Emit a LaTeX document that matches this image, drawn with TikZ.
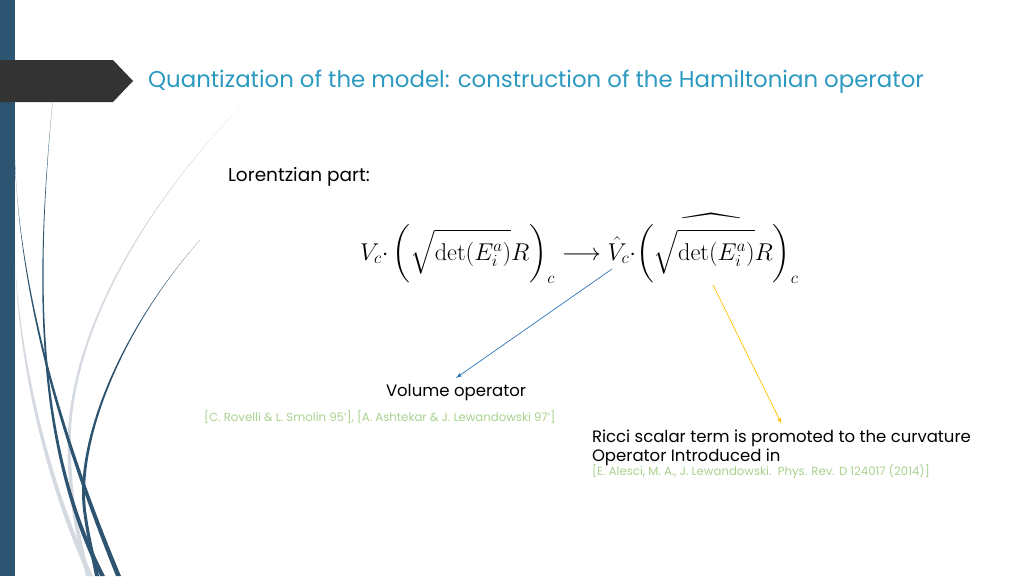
\documentclass[tikz,border=0pt]{standalone}
\usepackage{amsmath}
\usepackage[no-math]{fontspec}
\setmainfont{Poppins}
\definecolor{stripblue}{HTML}{2D5470}
\definecolor{bargray}{HTML}{333333}
\definecolor{titleblue}{HTML}{2C9AC0}
\definecolor{curvegray}{HTML}{D5DAE1}
\definecolor{refgreen}{HTML}{A9D18E}
\definecolor{volblue}{HTML}{2E75B6}
\definecolor{ricciyellow}{HTML}{FFC000}
\newcommand{\bighat}[1]{\mathord{\overset{\makebox[0pt]{\hspace{13pt}\raisebox{-10pt}[0pt][0pt]{\scalebox{1.65}[1.2]{$\widehat{\hphantom{mm}}$}}}}{#1}}}
\begin{document}
\begin{tikzpicture}[x=0.03cm,y=-0.03cm,
    titletext/.style={anchor=base west,text=titleblue,inner sep=0pt,font=\fontsize{19.5}{22}\selectfont},
    bodytext/.style={anchor=base west,inner sep=0pt,outer xsep=0pt,outer ysep=5pt,font=\fontsize{14.1}{16}\selectfont},
    reftext/.style={anchor=base west,text=refgreen,inner sep=0pt,font=\fontsize{10}{12}\selectfont},
    formula/.style={anchor=base west,inner sep=0pt,font=\fontsize{19.5}{22}\selectfont}]
    \useasboundingbox (0,0) rectangle (1024,576);
    % swooshes on the left
    \fill[curvegray] (240,107) .. controls (150,200) and (75,320) .. (68,430) .. controls (65,500) and (80,550) .. (86,576)
        -- (90,576) .. controls (84,550) and (69,500) .. (71,430) .. controls (77,320) and (151,200) .. (240,107) -- cycle;
    \fill[curvegray] (15,258) .. controls (18,360) and (43,476) .. (88,576) -- (93,576) .. controls (47,476) and (21,360) .. (15,262) -- cycle;
    \fill[stripblue] (53,97) .. controls (38,250) and (28,432) .. (100,576) -- (105,576) .. controls (30,432) and (39,250) .. (53,97) -- cycle;
    \fill[stripblue] (15,160) .. controls (20,300) and (61,440) .. (116,576) -- (121,576) .. controls (64,440) and (22,300) .. (15,166) -- cycle;
    \fill[stripblue] (200,240) .. controls (120,330) and (75,440) .. (83,510) .. controls (87,540) and (92,560) .. (95,576)
        -- (99,576) .. controls (96,560) and (90,540) .. (86,510) .. controls (78,440) and (121,330) .. (200,240) -- cycle;
    % strip and title bar
    \fill[stripblue] (0,0) rectangle (15,576);
    \fill[bargray] (0,60) -- (113,60) -- (133,81) -- (113,102) -- (0,102) -- cycle;
    \node[titletext] (title) at (148,87) {Quantization of the model: construction of the Hamiltonian operator};
    \node[bodytext,font=\fontsize{15.8}{18}\selectfont] (lorentzian) at (228,181) {Lorentzian part:};
    \node[formula] (hamilton) at (360,260)
        {$\displaystyle V_c{\cdot}\,\biggl(\sqrt{\det(E_i^a)}R\biggr)_c \longrightarrow \hat{V}_c{\cdot}\biggl(\bighat{\sqrt{\det(E_i^a)}}R\biggr)_c$};
    \coordinate (vhat) at (612,269);
    \coordinate (curv) at (713,285);
    \node[bodytext] (volume) at (386,396) {Volume operator};
    \node[reftext] (rovelli) at (204,421) {[C. Rovelli \& L. Smolin 95'], [A. Ashtekar \& J. Lewandowski 97']};
    \node[bodytext] (ricci) at (592,442) {Ricci scalar term is promoted to the curvature};
    \node[bodytext] (operator) at (592,461) {Operator Introduced in};
    \node[reftext] (alesci) at (592,475) {[E. Alesci, M. A., J. Lewandowski.\ \ Phys. Rev. D 124017 (2014)]};
    \draw[-latex, volblue, line width=0.6pt] (vhat) -- (volume.north);
    \draw[-latex, ricciyellow, line width=0.6pt] (curv) -- (ricci.north);
\end{tikzpicture}
\end{document}
